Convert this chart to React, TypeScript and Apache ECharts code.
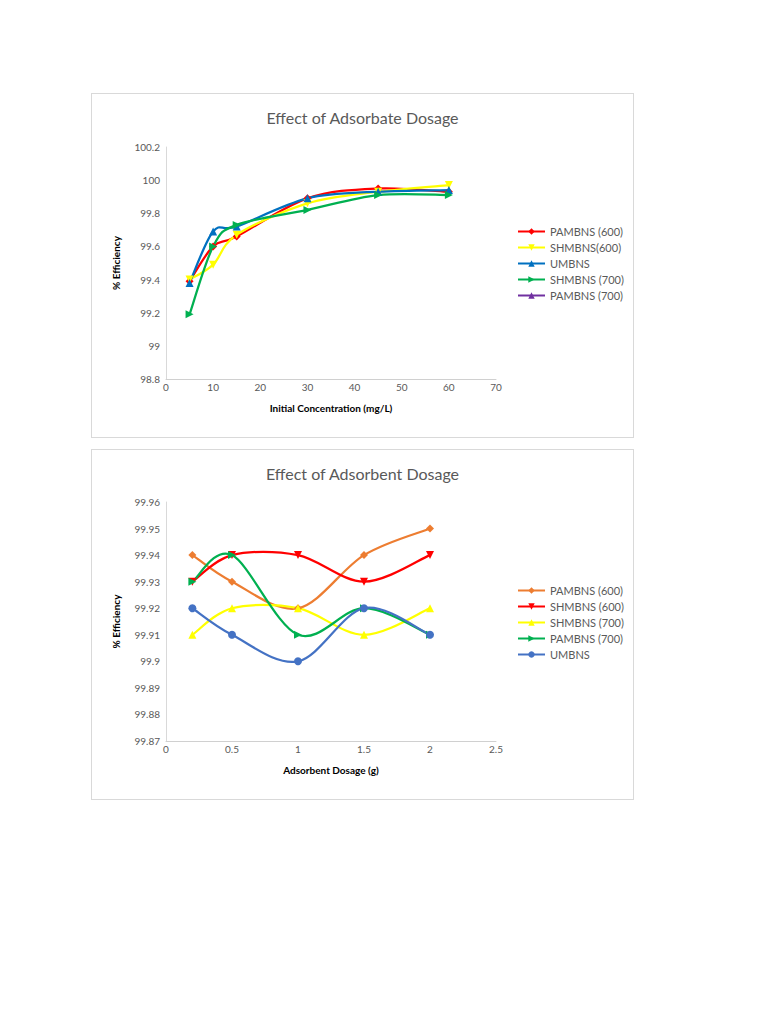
import React, { useEffect, useRef } from "react";
import * as echarts from "echarts";

// Effect of Adsorbate Dosage (initial concentration, mg/L)
const concX = [5, 10, 15, 30, 45, 60];
const pam600A = [99.39, 99.6, 99.66, 99.89, 99.95, 99.93];
const shm600A = [99.4, 99.49, 99.67, 99.86, 99.93, 99.97];
const umbA = [99.38, 99.69, 99.72, 99.89, 99.93, 99.94];
const shm700A = [99.19, 99.6, 99.73, 99.82, 99.91, 99.91];
const pam700A: number[] = [];

// Effect of Adsorbent Dosage (g)
const doseX = [0.2, 0.5, 1, 1.5, 2];
const pam600B = [99.94, 99.93, 99.92, 99.94, 99.95];
const shm600B = [99.93, 99.94, 99.94, 99.93, 99.94];
const shm700B = [99.91, 99.92, 99.92, 99.91, 99.92];
const pam700B = [99.93, 99.94, 99.91, 99.92, 99.91];
const umbB = [99.92, 99.91, 99.9, 99.92, 99.91];

const FONT = "Lato, 'Open Sans', sans-serif";
const GREY = "#595959";
const LINE_W = 2.25;

const pairs = (xs: number[], ys: number[]) => ys.map((y, i) => [xs[i], y]);
const fmt = (v: number) => String(parseFloat(v.toFixed(2)));

// Smoothed connecting curve (cardinal spline through the points, in pixel space)
function curveSeries(name: string, xs: number[], ys: number[], color: string) {
  const pts = pairs(xs, ys);
  return {
    type: "custom",
    name: name + " curve",
    data: pts,
    silent: true,
    encode: { x: 0, y: 1 },
    renderItem: (params: any, api: any) => {
      const i = params.dataIndex;
      if (i >= pts.length - 1) return null;
      const at = (k: number) => api.coord(pts[Math.max(0, Math.min(pts.length - 1, k))]);
      const p0 = at(i - 1), p1 = at(i), p2 = at(i + 1), p3 = at(i + 2);
      const t = 1 / 6;
      return {
        type: "bezierCurve",
        shape: {
          x1: p1[0], y1: p1[1], x2: p2[0], y2: p2[1],
          cpx1: p1[0] + (p2[0] - p0[0]) * t,
          cpy1: p1[1] + (p2[1] - p0[1]) * t,
          cpx2: p2[0] - (p3[0] - p1[0]) * t,
          cpy2: p2[1] - (p3[1] - p1[1]) * t,
        },
        style: { stroke: color, lineWidth: LINE_W, fill: "none" },
      };
    },
  };
}

// Markers (and the legend entry) for a series
function markerSeries(name: string, xs: number[], ys: number[], color: string, symbol: string, rotate = 0) {
  return {
    name,
    type: "line",
    data: pairs(xs, ys),
    symbol,
    symbolSize: 8,
    symbolRotate: rotate,
    showSymbol: true,
    lineStyle: { color, width: LINE_W, opacity: 0 },
    itemStyle: { color },
  };
}

function seriesPair(name: string, xs: number[], ys: number[], color: string, symbol: string, rotate = 0) {
  return [curveSeries(name, xs, ys, color), markerSeries(name, xs, ys, color, symbol, rotate)];
}

function baseOption(title: string, titleTop: number, xName: string, xMax: number, xInt: number,
  yMin: number, yMax: number, yInt: number, gridTop: number, gridH: number, legendTop: number,
  names: string[]) {
  return {
    animation: false,
    textStyle: { fontFamily: FONT },
    title: {
      text: title,
      left: "center",
      top: titleTop,
      textStyle: { fontFamily: FONT, fontSize: 16, fontWeight: "normal", color: GREY },
    },
    grid: { left: 74, top: gridTop, width: 330, height: gridH, containLabel: false },
    legend: {
      data: names,
      orient: "vertical",
      left: 425,
      top: legendTop,
      padding: 0,
      itemWidth: 27,
      itemHeight: 8,
      itemGap: 5,
      lineStyle: { opacity: 1 },
      textStyle: { fontFamily: FONT, fontSize: 11, color: GREY },
    },
    xAxis: {
      type: "value",
      min: 0,
      max: xMax,
      interval: xInt,
      name: xName,
      nameLocation: "middle",
      nameGap: 24,
      nameTextStyle: { fontFamily: FONT, fontSize: 10, fontWeight: "bold", color: "#000" },
      axisLine: { lineStyle: { color: "#D0D0D0", width: 1 } },
      axisTick: { show: false },
      splitLine: { show: false },
      axisLabel: { color: GREY, fontSize: 10, fontFamily: FONT, margin: 3, formatter: fmt },
    },
    yAxis: {
      type: "value",
      min: yMin,
      max: yMax,
      interval: yInt,
      name: "% Efficiency",
      nameLocation: "middle",
      nameGap: 45,
      nameRotate: 90,
      nameTextStyle: { fontFamily: FONT, fontSize: 10, fontWeight: "bold", color: "#000" },
      axisLine: { show: true, lineStyle: { color: "#D9D9D9", width: 1 } },
      axisTick: { show: false },
      splitLine: { show: false },
      axisLabel: { color: GREY, fontSize: 10, fontFamily: FONT, margin: 6, formatter: fmt },
    },
  };
}

function Chart({ option, style }: { option: any; style: React.CSSProperties }) {
  const ref = useRef<HTMLDivElement>(null);
  useEffect(() => {
    if (!ref.current) return;
    const chart = echarts.init(ref.current, undefined, { renderer: "svg" });
    chart.setOption(option);
    return () => chart.dispose();
  }, [option]);
  return <div ref={ref} style={style} />;
}

const namesA = ["PAMBNS (600)", "SHMBNS(600)", "UMBNS", "SHMBNS (700)", "PAMBNS (700)"];
const adsorbateOption = {
  ...baseOption("Effect of Adsorbate Dosage", 10, "Initial Concentration (mg/L)", 70, 10,
    98.8, 100.2, 0.2, 53, 232, 132, namesA),
  series: [
    ...seriesPair(namesA[0], concX, pam600A, "#FF0000", "diamond"),
    ...seriesPair(namesA[1], concX, shm600A, "#FFFF00", "triangle", 180),
    ...seriesPair(namesA[2], concX, umbA, "#0070C0", "triangle"),
    ...seriesPair(namesA[3], concX, shm700A, "#00B050", "triangle", -90),
    ...seriesPair(namesA[4], concX, pam700A, "#7030A0", "triangle"),
  ],
};

const namesB = ["PAMBNS (600)", "SHMBNS (600)", "SHMBNS (700)", "PAMBNS (700)", "UMBNS"];
const adsorbentOption = {
  ...baseOption("Effect of Adsorbent Dosage", 10, "Adsorbent Dosage (g)", 2.5, 0.5,
    99.87, 99.96, 0.01, 52, 239, 135, namesB),
  series: [
    ...seriesPair(namesB[0], doseX, pam600B, "#ED7D31", "diamond"),
    ...seriesPair(namesB[1], doseX, shm600B, "#FF0000", "triangle", 180),
    ...seriesPair(namesB[2], doseX, shm700B, "#FFFF00", "triangle"),
    ...seriesPair(namesB[3], doseX, pam700B, "#00B050", "triangle", -90),
    ...seriesPair(namesB[4], doseX, umbB, "#4472C4", "circle"),
  ],
};

const boxStyle: React.CSSProperties = {
  position: "absolute",
  left: 91,
  width: 543,
  border: "1px solid #D9D9D9",
  boxSizing: "border-box",
  background: "#fff",
};

export default function App() {
  return (
    <div style={{ position: "absolute", left: 0, top: 0, width: 768, height: 1024, background: "#fff" }}>
      <Chart option={adsorbateOption} style={{ ...boxStyle, top: 93, height: 345 }} />
      <Chart option={adsorbentOption} style={{ ...boxStyle, top: 449, height: 351 }} />
    </div>
  );
}
